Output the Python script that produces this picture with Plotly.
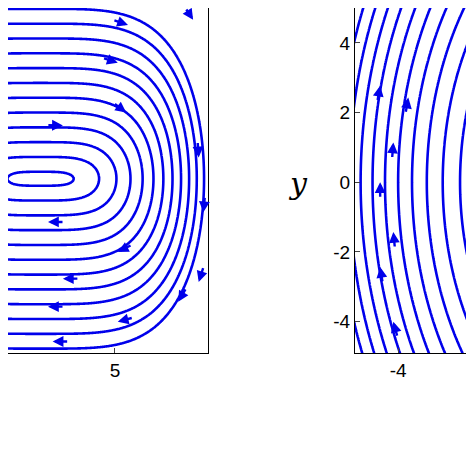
import numpy as np
import plotly.graph_objects as go

# left panel: closed orbits around a centre, clockwise
left_center = (4.2, 0.1)
left_x_range = [3.85, 6.0]
left_levels = dict(start=0.04, end=1.0, size=0.085)
# right panel: tall orbits, left side flowing upward
right_center = (0.0, 0.0)
right_x_range = [-4.72, -2.6]
right_levels = dict(start=7.0, end=30.0, size=1.8)
y_range = [-4.9, 5.0]
y_ticks = [-4, -2, 0, 2, 4]
y_ticktext = ["-4", "-2", "0", "2", "4"]

# arrow positions (data coords)
left_arrow_x = [5.84, 5.14, 5.03, 4.44, 5.12, 5.9, 5.95, 4.28, 5.03, 4.44, 4.28, 5.9, 5.03, 4.33, 5.68]
left_arrow_y = [4.66, 4.51, 3.43, 1.63, 2.0, 0.71, -0.86, -1.14, -2.0, -2.77, -3.57, -2.86, -4.0, -4.57, -3.43]
right_arrow_x = [-4.3, -4.3, -4.3, -4.08, -4.08, -4.08, -3.83]
right_arrow_y = [2.77, 0.0, -2.43, 1.14, -1.43, -4.0, 2.43]


def left_field(x, y):
    return np.sqrt(((x - left_center[0]) / 1.78) ** 4 + ((y - left_center[1]) / 5) ** 2)


def right_field(x, y):
    return (x - right_center[0]) ** 2 + ((y - right_center[1]) / 2.5) ** 2


BLUE = "rgb(0,0,235)"
fig = go.Figure()


def add_panel(field, xr, levels, ax_x, ax_y, px_width, pts_x, pts_y):
    gx = np.linspace(xr[0] - 0.3, xr[1] + 0.3, 300)
    gy = np.linspace(-5.5, 5.5, 300)
    X, Y = np.meshgrid(gx, gy)
    Z = field(X, Y)
    fig.add_trace(go.Contour(
        x=gx, y=gy, z=Z, contours=dict(coloring="lines", **levels),
        colorscale=[[0, BLUE], [1, BLUE]], showscale=False,
        line=dict(width=2.6), xaxis=ax_x, yaxis=ax_y, hoverinfo="skip"))
    eps = 1e-4
    sx = px_width / (xr[1] - xr[0])
    sy = 345 / (y_range[1] - y_range[0])
    for px, py in zip(pts_x, pts_y):
        dfx = (field(px + eps, py) - field(px - eps, py)) / (2 * eps)
        dfy = (field(px, py + eps) - field(px, py - eps)) / (2 * eps)
        tx, ty = dfy, -dfx  # clockwise tangent
        vx, vy = tx * sx, ty * sy
        n = np.hypot(vx, vy)
        vx, vy = vx / n, vy / n
        fig.add_annotation(x=px, y=py, xref=ax_x, yref=ax_y, text="",
                           showarrow=True, arrowhead=2, arrowsize=0.9,
                           arrowwidth=2.4, arrowcolor=BLUE,
                           ax=-vx * 16, ay=vy * 16)


add_panel(left_field, left_x_range, left_levels, "x", "y", 200,
          left_arrow_x, left_arrow_y)
add_panel(right_field, right_x_range, right_levels, "x2", "y2", 127,
          right_arrow_x, right_arrow_y)

axis_style = dict(showline=True, linecolor="black", linewidth=1, mirror=True,
                  ticks="inside", ticklen=5, showgrid=False, zeroline=False,
                  tickfont=dict(family="Liberation Sans", size=19, color="black"))
fig.update_layout(
    width=474, height=474, margin=dict(l=0, r=0, t=0, b=0),
    paper_bgcolor="white", plot_bgcolor="white", showlegend=False,
    xaxis=dict(domain=[0, 200 / 474], range=left_x_range, tickvals=[5], **axis_style),
    yaxis=dict(domain=[1 - 345 / 474, 1], range=y_range, tickvals=[], **axis_style),
    xaxis2=dict(domain=[347 / 474, 1], range=right_x_range, tickvals=[-4],
                ticktext=["-4"], anchor="y2", **axis_style),
    yaxis2=dict(domain=[1 - 345 / 474, 1], range=y_range, tickvals=y_ticks,
                ticktext=y_ticktext, anchor="x2", **axis_style),
)
fig.add_annotation(x=0.612, y=1 - 175 / 474, xref="paper", yref="paper",
                   text="<i>y</i>", showarrow=False,
                   font=dict(family="DejaVu Serif", size=30, color="black"))
fig.write_html("out.html")
